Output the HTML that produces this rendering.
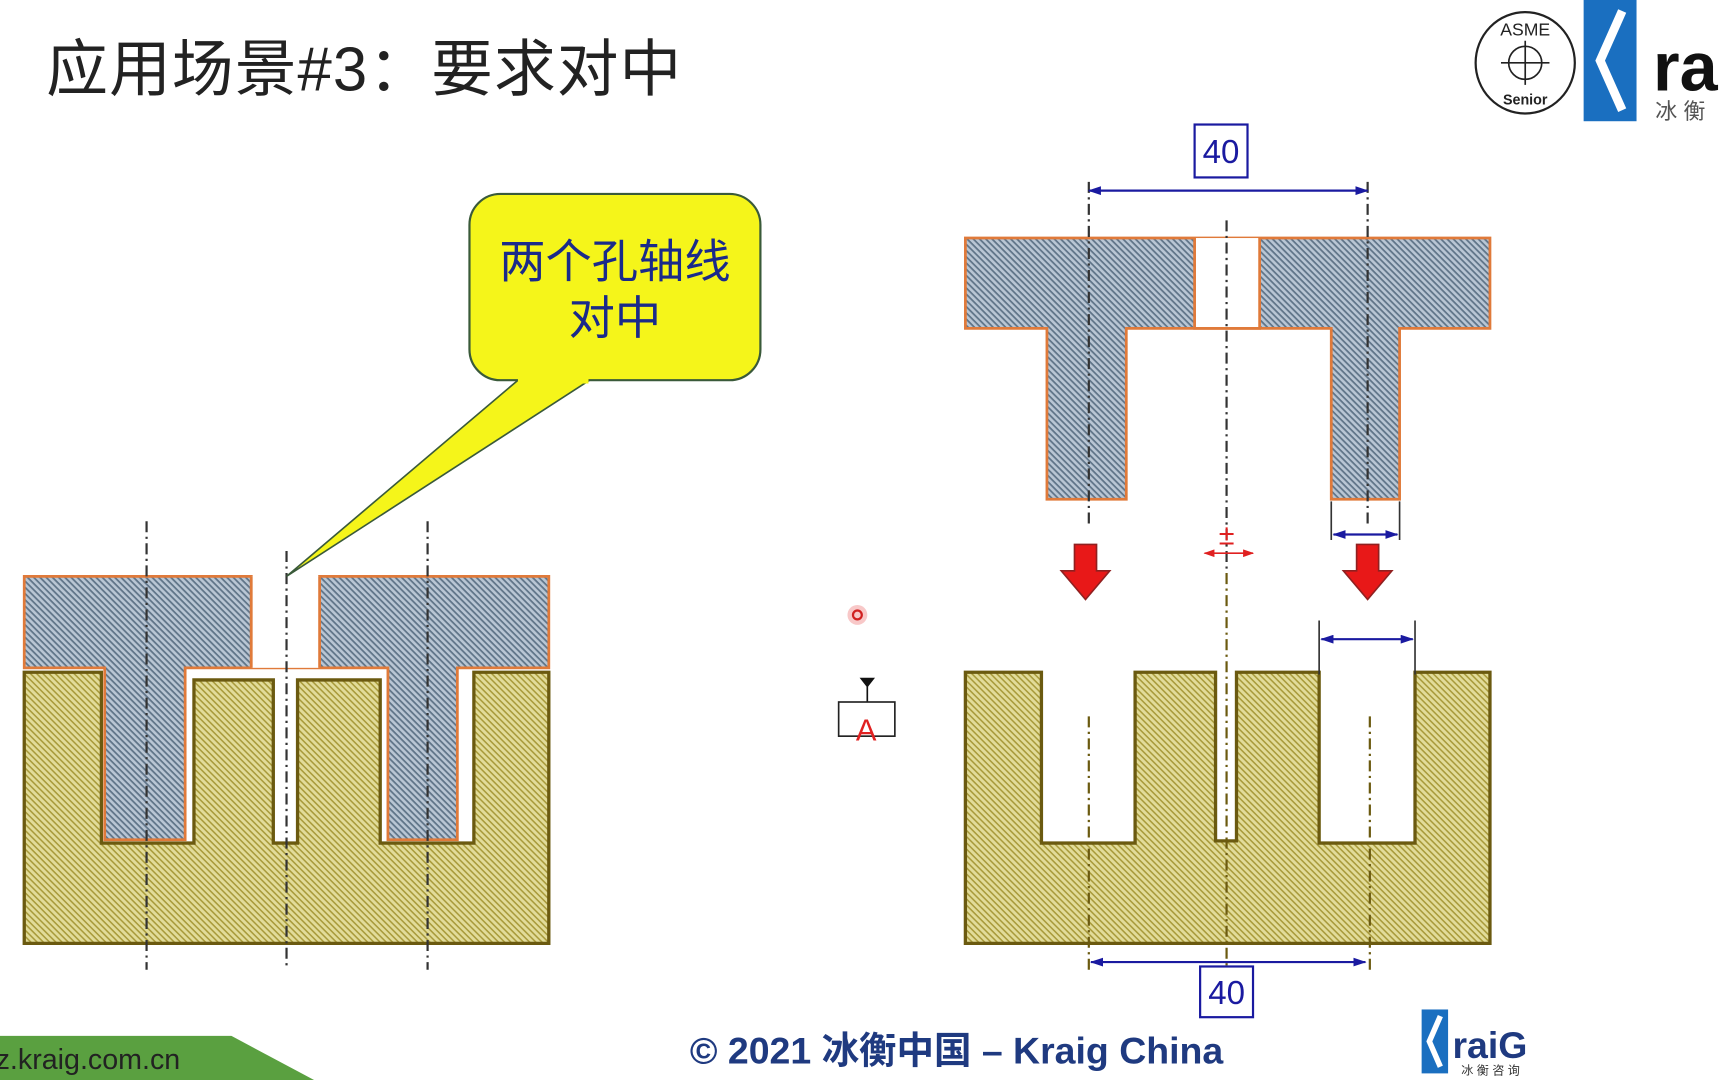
<!DOCTYPE html>
<html><head><meta charset="utf-8">
<style>
html,body{margin:0;padding:0;background:#fff;}
svg{display:block;}
text{font-family:"Liberation Sans","Noto Sans CJK SC",sans-serif;}
</style></head><body>
<svg width="1728" height="1080" viewBox="0 0 1568 980" preserveAspectRatio="none" xmlns="http://www.w3.org/2000/svg">
<defs>
<pattern id="hb" width="4" height="4" patternUnits="userSpaceOnUse" patternTransform="rotate(45)">
<rect width="4" height="4" fill="#b9c6d4"/><rect width="4" height="1.6" fill="#5f7488"/></pattern>
<pattern id="ho" width="4" height="4" patternUnits="userSpaceOnUse" patternTransform="rotate(45)">
<rect width="4" height="4" fill="#e2dc9a"/><rect width="4" height="1.4" fill="#a89a3a"/></pattern>
<marker id="ab" markerUnits="userSpaceOnUse" markerWidth="12" markerHeight="8" refX="11" refY="4" orient="auto-start-reverse"><path d="M0,0 L12,4 L0,8 z" fill="#1a1aa0"/></marker>
<marker id="ar" markerUnits="userSpaceOnUse" markerWidth="10" markerHeight="7" refX="9" refY="3.5" orient="auto-start-reverse"><path d="M0,0 L10,3.5 L0,7 z" fill="#e02020"/></marker>
</defs>

<text x="42" y="82" font-size="56" fill="#222" letter-spacing="1">应用场景#3：要求对中</text>

<!-- LEFT -->
<path d="M22,856 L22,610 L92,610 L92,765 L176,765 L176,617 L248,617 L248,765 L270,765 L270,617 L345,617 L345,765 L430,765 L430,610 L498,610 L498,856 Z" fill="url(#ho)" stroke="#6b5a10" stroke-width="3"/>
<path d="M22,523 L228,523 L228,606 L290,606 L290,523 L498,523 L498,606 L415,606 L415,762 L352,762 L352,606 L168,606 L168,762 L95,762 L95,606 L22,606 Z" fill="url(#hb)" stroke="#e07a3a" stroke-width="2.5"/>
<rect x="228" y="523" width="62" height="83" fill="#fff"/>
<path d="M228,523 V606 M290,523 V606" stroke="#e07a3a" stroke-width="2.5"/>
<g stroke="#333" stroke-width="2" stroke-dasharray="10,4,2,4">
<line x1="133" y1="473" x2="133" y2="880"/><line x1="260" y1="500" x2="260" y2="880"/><line x1="388" y1="473" x2="388" y2="880"/>
</g>
<!-- callout -->
<path d="M470,345 L260,523 L535,345 Z" fill="#f5f51a" stroke="#3a5a3a" stroke-width="1.5"/>
<rect x="426" y="176" width="264" height="169" rx="28" fill="#f5f51a" stroke="#3a5a3a" stroke-width="2"/>
<rect x="470" y="338" width="64" height="10" fill="#f5f51a"/>
<text x="558" y="252" font-size="42" fill="#1a2a8a" text-anchor="middle">两个孔轴线</text>
<text x="558" y="303" font-size="42" fill="#1a2a8a" text-anchor="middle">对中</text>

<!-- RIGHT top piece -->
<path d="M876,216 L1352,216 L1352,298 L1270,298 L1270,453 L1208,453 L1208,298 L1022,298 L1022,453 L950,453 L950,298 L876,298 Z" fill="url(#hb)" stroke="#e07a3a" stroke-width="2.5"/>
<rect x="1084" y="216" width="59" height="82" fill="#fff"/>
<path d="M1084,216 V298 H1143 V216" fill="none" stroke="#e07a3a" stroke-width="2.5"/>
<g stroke="#333" stroke-width="2" stroke-dasharray="10,4,2,4">
<line x1="988" y1="165" x2="988" y2="475"/><line x1="1241" y1="165" x2="1241" y2="475"/><line x1="1113" y1="200" x2="1113" y2="520"/>
</g>
<line x1="988" y1="173" x2="1241" y2="173" stroke="#1a1aa0" stroke-width="2" marker-start="url(#ab)" marker-end="url(#ab)"/>
<rect x="1084" y="113" width="48" height="48" fill="#fff" stroke="#1a1aa0" stroke-width="2"/>
<text x="1108" y="148" font-size="30" fill="#1a1aa0" text-anchor="middle">40</text>
<path d="M1208,455 V490 M1270,455 V490" stroke="#333" stroke-width="1.5"/>
<line x1="1210" y1="485" x2="1268" y2="485" stroke="#1a1aa0" stroke-width="2" marker-start="url(#ab)" marker-end="url(#ab)"/>
<!-- red arrows -->
<path d="M975,494 H995 V518 H1007 L985,544 L963,518 H975 Z" fill="#e81818" stroke="#902020" stroke-width="1.5"/>
<path d="M1231,494 H1251 V518 H1263 L1241,544 L1219,518 H1231 Z" fill="#e81818" stroke="#902020" stroke-width="1.5"/>
<text x="1113" y="494" font-size="26" fill="#e02020" text-anchor="middle">±</text>
<line x1="1093" y1="502" x2="1137" y2="502" stroke="#e02020" stroke-width="1.5" marker-start="url(#ar)" marker-end="url(#ar)"/>

<!-- RIGHT bottom piece -->
<path d="M876,856 L876,610 L945,610 L945,765 L1030,765 L1030,610 L1103,610 L1103,763 L1122,763 L1122,610 L1197,610 L1197,765 L1284,765 L1284,610 L1352,610 L1352,856 Z" fill="url(#ho)" stroke="#6b5a10" stroke-width="3"/>
<g stroke="#6b5a10" stroke-width="2" stroke-dasharray="10,4,2,4">
<line x1="988" y1="650" x2="988" y2="880"/><line x1="1113" y1="520" x2="1113" y2="880"/><line x1="1243" y1="650" x2="1243" y2="880"/>
</g>
<path d="M1197,563 V612 M1284,563 V612" stroke="#333" stroke-width="1.5"/>
<line x1="1199" y1="580" x2="1282" y2="580" stroke="#1a1aa0" stroke-width="2" marker-start="url(#ab)" marker-end="url(#ab)"/>
<line x1="990" y1="873" x2="1239" y2="873" stroke="#1a1aa0" stroke-width="2" marker-start="url(#ab)" marker-end="url(#ab)"/>
<rect x="1089" y="877" width="48" height="46" fill="#fff" stroke="#1a1aa0" stroke-width="2"/>
<text x="1113" y="911" font-size="30" fill="#1a1aa0" text-anchor="middle">40</text>

<!-- datum A -->
<path d="M780,615 L794,615 L787,624 Z" fill="#111"/>
<line x1="787" y1="620" x2="787" y2="637" stroke="#111" stroke-width="1.5"/>
<rect x="761" y="637" width="51" height="31" fill="#fff" stroke="#222" stroke-width="1.5"/>
<text x="786" y="672" font-size="28" fill="#e02020" text-anchor="middle">A</text>
<circle cx="778" cy="558" r="9" fill="#f8c8c8"/><circle cx="778" cy="558" r="4" fill="none" stroke="#d02020" stroke-width="2"/>

<!-- logos -->
<ellipse cx="1384" cy="57" rx="45" ry="46" fill="#fff" stroke="#222" stroke-width="2"/>
<text x="1384" y="32" font-size="16" fill="#222" text-anchor="middle" font-family="Liberation Serif">ASME</text>
<circle cx="1384" cy="57" r="15" fill="none" stroke="#222" stroke-width="1.5"/>
<path d="M1362,57 H1406 M1384,37 V77" stroke="#222" stroke-width="1.5"/>
<text x="1384" y="95" font-size="13" font-weight="bold" fill="#222" text-anchor="middle">Senior</text>
<rect x="1437" y="0" width="48" height="110" fill="#1a6fc0"/>
<path d="M1472,10 L1452,55 L1472,100" fill="none" stroke="#fff" stroke-width="8"/>
<text x="1500" y="82" font-size="62" font-weight="bold" fill="#111">ra</text>
<text x="1502" y="108" font-size="20" fill="#555">冰 衡</text>

<!-- footer -->
<path d="M0,940 L210,940 L285,980 L0,980 Z" fill="#5aa040"/>
<text x="-4" y="970" font-size="26" fill="#222">z.kraig.com.cn</text>
<text x="868" y="965" font-size="34" font-weight="bold" fill="#1f3a80" text-anchor="middle">© 2021 冰衡中国 – Kraig China</text>
<rect x="1290" y="916" width="24" height="58" fill="#1a6fc0"/>
<path d="M1307,922 L1297,945 L1307,968" fill="none" stroke="#fff" stroke-width="5"/>
<text x="1318" y="960" font-size="34" font-weight="bold" fill="#1f3a80">raiG</text>
<text x="1326" y="975" font-size="11" fill="#333">冰 衡 咨 询</text>
</svg>
</body></html>
